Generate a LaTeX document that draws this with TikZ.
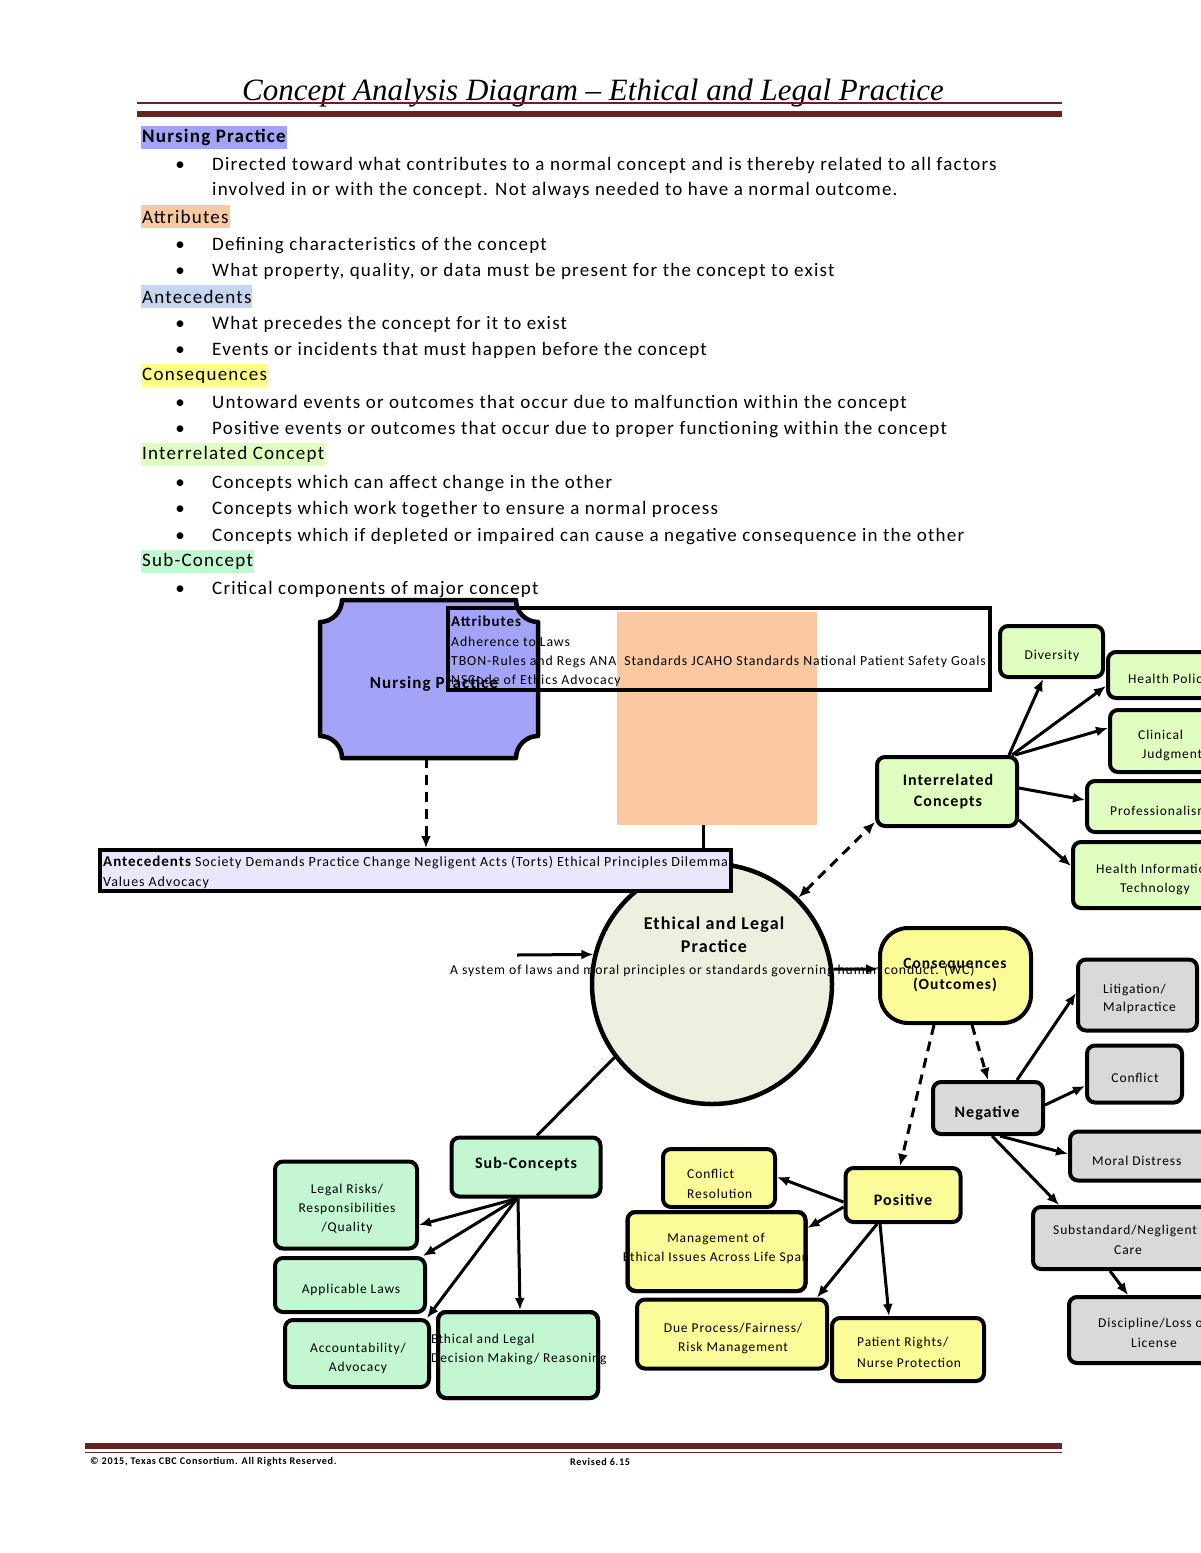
\documentclass[tikz,border=0pt]{standalone}
\usepackage{fontspec}
\setmainfont{Carlito}[LetterSpace=6.5]
\newfontfamily\titlefont{Liberation Serif}
\usetikzlibrary{arrows.meta}
\definecolor{maroon}{HTML}{632523}
\definecolor{npblue}{HTML}{A3A3F8}
\definecolor{peach}{HTML}{FBC9A1}
\definecolor{antblue}{HTML}{C6D6F0}
\definecolor{antbox}{HTML}{E9E7FB}
\definecolor{conhl}{HTML}{FFFF85}
\definecolor{conbox}{HTML}{FBFB98}
\definecolor{irgreen}{HTML}{DFFEC0}
\definecolor{subgreen}{HTML}{C2F7D2}
\definecolor{circfill}{HTML}{EBF1DE}
\definecolor{graybox}{HTML}{D9D9D9}
\begin{document}
\begin{tikzpicture}[x=1pt,y=-1pt,
  hl/.style={anchor=west,inner xsep=1pt,inner ysep=0pt,minimum height=23pt,font=\fontsize{19}{22}\selectfont},
  bodyt/.style={anchor=base west,inner sep=0pt,font=\fontsize{19}{22}\selectfont},
  bul/.style={anchor=base,inner sep=0pt,font=\fontsize{19}{22}\selectfont},
  box/.style={draw,line width=4pt,rounded corners=8pt,inner sep=0pt},
  boxG/.style={box,fill=irgreen},
  boxY/.style={box,fill=conbox},
  boxN/.style={box,fill=graybox},
  boxS/.style={box,fill=subgreen},
  lbl/.style={inner sep=0pt,align=center,font=\fontsize{13.5}{19}\selectfont},
  lbll/.style={lbl,anchor=west},
  lblb/.style={inner sep=0pt,align=center,font=\bfseries\fontsize{16}{21}\selectfont},
  smallt/.style={anchor=base west,inner sep=0pt,font=\fontsize{13.8}{18}\selectfont},
  arr/.style={line width=3pt,-{Latex[length=12pt,width=10pt]}},
  darr/.style={arr,dash pattern=on 10pt off 7pt},
  plain/.style={line width=3pt}]
\useasboundingbox (0,0) rectangle (1200,1553);
\fill[white] (0,0) rectangle (1200,1553);

% header
\node[anchor=base,inner sep=0pt,font=\titlefont\itshape\fontsize{31}{31}\selectfont] (title) at (593,100) {Concept Analysis Diagram \textendash{} Ethical and Legal Practice};
\draw[maroon,line width=1.6pt] (137,103) -- (1062,103);
\draw[maroon,line width=6pt] (137,114) -- (1062,114);

% list
\node[hl,fill=npblue,font=\bfseries\fontsize{19}{22}\selectfont] (h1) at (141,137.5) {Nursing Practice};
\node[bul] (b1) at (180,170) {\textbullet};
\node[bodyt] (t1) at (212,170) {Directed toward what contributes to a normal concept and is thereby related to all factors};
\node[bodyt] (t1b) at (212,195) {involved in or with the concept. Not always needed to have a normal outcome.};
\node[hl,fill=peach] (h2) at (141,216.5) {Attributes};
\node[bul] (b2) at (180,250) {\textbullet};
\node[bodyt] (t2) at (212,250) {Defining characteristics of the concept};
\node[bul] (b3) at (180,276) {\textbullet};
\node[bodyt] (t3) at (212,276) {What property, quality, or data must be present for the concept to exist};
\node[hl,fill=antblue] (h3) at (141,296.5) {Antecedents};
\node[bul] (b4) at (180,329) {\textbullet};
\node[bodyt] (t4) at (212,329) {What precedes the concept for it to exist};
\node[bul] (b5) at (180,355) {\textbullet};
\node[bodyt] (t5) at (212,355) {Events or incidents that must happen before the concept};
\node[hl,fill=conhl] (h4) at (141,375.5) {Consequences};
\node[bul] (b6) at (180,408) {\textbullet};
\node[bodyt] (t6) at (212,408) {Untoward events or outcomes that occur due to malfunction within the concept};
\node[bul] (b7) at (180,434) {\textbullet};
\node[bodyt] (t7) at (212,434) {Positive events or outcomes that occur due to proper functioning within the concept};
\node[hl,fill=irgreen] (h5) at (141,454.5) {Interrelated Concept};
\node[bul] (b8) at (180,488) {\textbullet};
\node[bodyt] (t8) at (212,488) {Concepts which can affect change in the other};
\node[bul] (b9) at (180,514) {\textbullet};
\node[bodyt] (t9) at (212,514) {Concepts which work together to ensure a normal process};
\node[bul] (b10) at (180,541) {\textbullet};
\node[bodyt] (t10) at (212,541) {Concepts which if depleted or impaired can cause a negative consequence in the other};
\node[hl,fill=subgreen] (h6) at (141,561.5) {Sub-Concept};
\node[bul] (b11) at (180,594) {\textbullet};
\node[bodyt] (t11) at (212,594) {Critical components of major concept};

% nursing practice shape
\node[minimum width=218pt,minimum height=158pt,inner sep=0pt] (nurse) at (429,679) {};
\draw[line width=4.5pt,fill=npblue,line join=round]
 (342,600) -- (516,600) .. controls (516,612) and (526,622) .. (538,622)
 -- (538,736) .. controls (526,736) and (516,746) .. (516,758)
 -- (342,758) .. controls (342,746) and (332,736) .. (320,736)
 -- (320,622) .. controls (332,622) and (342,612) .. (342,600) -- cycle;
\node[inner sep=0pt,font=\bfseries\fontsize{17}{20}\selectfont] (nursetxt) at (434,684) {Nursing Practice};

% peach block and attributes box
\node[fill=peach,minimum width=200pt,minimum height=213pt,inner sep=0pt] (peachr) at (717,718.5) {};
\node[draw,line width=4pt,minimum width=542pt,minimum height=82pt,inner sep=0pt] (attr) at (719,649) {};
\node[anchor=base west,inner sep=0pt,font=\bfseries\fontsize{15}{18}\selectfont] (at1) at (451,626) {Attributes};
\node[smallt] (at2) at (451,646) {Adherence to Laws};
\node[smallt] (at3) at (451,665) {TBON-Rules and Regs ANA\ \ Standards JCAHO Standards National Patient Safety Goals};
\node[smallt] (at4) at (451,684) {NSCode of Ethics Advocacy};

% central circle
\node[circle,draw,line width=4.5pt,fill=circfill,minimum size=240pt,inner sep=0pt] (ethic) at (712,984) {};
\node[lblb,font=\bfseries\fontsize{18}{23}\selectfont] (ethictxt) at (714,935) {Ethical and Legal\\Practice};

% antecedents box
\node[draw,line width=4pt,fill=antbox,minimum width=631pt,minimum height=41pt,inner sep=0pt] (ante) at (415.5,870.5) {};
\node[anchor=base west,inner sep=0pt,font=\fontsize{14}{18}\selectfont] (antet1) at (103,866) {{\bfseries\fontsize{15}{18}\selectfont Antecedents} Society Demands Practice Change Negligent Acts (Torts) Ethical Principles Dilemmas};
\node[anchor=base west,inner sep=0pt,font=\fontsize{14}{18}\selectfont] (antet2) at (103,886) {Values Advocacy};
\draw[plain] ([xshift=-14pt]peachr.south) -- ([xshift=-14pt]peachr.south |- ante.north);
\draw[darr] ([xshift=-3pt]nurse.south) -- ([xshift=10.5pt]ante.north);

% interrelated concepts
\node[boxG,minimum width=140pt,minimum height=69pt] (interrel) at (947,791.5) {};
\node[lblb] at (948,792) {Interrelated\\Concepts};
\node[boxG,minimum width=103pt,minimum height=51pt] (div) at (1051.5,651.5) {};
\node[lbl] at (1052,656) {Diversity};
\node[boxG,minimum width=134pt,minimum height=46pt] (hpol) at (1175,675) {};
\node[lbll] at (1128,680) {Health Policy};
\node[boxG,minimum width=104pt,minimum height=62pt] (clin) at (1162,741) {};
\node[lbll] at (1138,735) {Clinical};
\node[lbll] at (1142,755) {Judgment};
\node[boxG,minimum width=126pt,minimum height=51pt] (prof) at (1150,806.5) {};
\node[lbll] at (1110,811) {Professionalism};
\node[boxG,minimum width=140pt,minimum height=66pt] (hit) at (1143,875) {};
\node[lbll] at (1096,869) {Health Information};
\node[lbl] at (1155,889) {Technology};
\draw[arr] ([xshift=-10pt]interrel.north east) -- ([xshift=-8.5pt]div.south);
\draw[arr] ([xshift=-7pt]interrel.north east) -- ([yshift=-11pt]hpol.west);
\draw[arr] ([xshift=-4pt]interrel.north east) -- ([yshift=13pt]clin.west);
\draw[arr] ([yshift=3.5pt]interrel.east) -- ([yshift=6.5pt]prof.west);
\draw[arr] ([yshift=-28.5pt]interrel.east) -- ([yshift=9pt]hit.west);
\draw[darr,{Latex[length=12pt,width=10pt]}-{Latex[length=12pt,width=10pt]}] (ethic.45) -- ([yshift=6pt]interrel.south west);

% consequences
\node[box,fill=conbox,rounded corners=28pt,minimum width=151pt,minimum height=95pt] (cons) at (955.5,975.5) {};
\node[lblb,font=\bfseries\fontsize{15.5}{21}\selectfont] at (955,975) {Consequences\\(Outcomes)};
\draw[arr] (ethic.7) -- ([yshift=6.5pt]cons.west);
\coordinate (defstart) at (517,955);
\draw[arr] (defstart) -- (ethic.166);
\node[anchor=base west,inner sep=0pt,font=\fontsize{13.7}{18}\selectfont] (deftxt) at (450,974) {A system of laws and moral principles or standards governing human conduct. (WC)};

% negative side
\node[boxN,minimum width=110pt,minimum height=52pt] (neg) at (988,1108) {};
\node[lblb] at (987,1113) {Negative};
\node[boxN,minimum width=119pt,minimum height=71pt] (lit) at (1137.5,995) {};
\node[lbll] at (1103,990) {Litigation/};
\node[lbll] at (1103,1008) {Malpractice};
\node[boxN,minimum width=95pt,minimum height=57pt] (confl) at (1134.5,1074) {};
\node[lbl] at (1135,1078) {Conflict};
\node[boxN,minimum width=144pt,minimum height=49pt] (moral) at (1142,1156) {};
\node[lbll] at (1092,1161) {Moral Distress};
\node[boxN,minimum width=180pt,minimum height=62pt] (subst) at (1123,1238) {};
\node[lbll] at (1053,1231) {Substandard/Negligent};
\node[lbl] at (1128,1250) {Care};
\node[boxN,minimum width=146pt,minimum height=66pt] (disc) at (1142,1330) {};
\node[lbll] at (1098,1324) {Discipline/Loss of};
\node[lbl] at (1154,1343) {License};
\draw[darr] ([xshift=16.5pt]cons.south) -- (neg.north);
\draw[arr] ([xshift=29pt]neg.north) -- ([yshift=2pt]lit.west);
\draw[arr] ([yshift=3pt]neg.east) -- ([yshift=-12pt]confl.west);
\draw[arr] ([xshift=12pt]neg.south) -- ([yshift=2pt]moral.west);
\draw[arr] ([xshift=4pt]neg.south) -- ([xshift=-64pt]subst.north);
\draw[arr] ([xshift=-13pt]subst.south) -- ([xshift=-14pt]disc.north);

% positive side
\node[boxY,minimum width=115pt,minimum height=54pt] (pos) at (903,1195) {};
\node[lblb] at (903,1200) {Positive};
\node[boxY,minimum width=112pt,minimum height=58pt] (confres) at (719,1178) {};
\node[lbll] at (687,1174) {Conflict};
\node[lbll] at (687,1194) {Resolution};
\node[boxY,minimum width=178pt,minimum height=79pt] (mgmt) at (716.5,1251.5) {};
\node[lbl] at (716,1248) {Management of\\Ethical Issues Across Life Span};
\node[box,minimum width=178pt,minimum height=79pt] at (mgmt) {};
\node[boxY,minimum width=190pt,minimum height=69pt] (due) at (732,1334) {};
\node[lbl] at (733,1338) {Due Process/Fairness/\\Risk Management};
\node[boxY,minimum width=152pt,minimum height=63pt] (prights) at (908,1349.5) {};
\node[lbll] at (857,1343) {Patient Rights/};
\node[lbll] at (857,1363) {Nurse Protection};
\draw[darr] ([xshift=-21.5pt]cons.south) -- ([xshift=-3pt]pos.north);
\draw[arr] ([yshift=-7pt]pos.west) -- ([yshift=1pt]confres.east);
\draw[arr] ([yshift=-12pt]pos.west) -- ([yshift=23.5pt]mgmt.east);
\draw[arr] ([xshift=-26pt]pos.south) -- ([xshift=85pt]due.north);
\draw[arr] ([xshift=-23pt]pos.south) -- ([xshift=-19pt]prights.north);

% sub-concepts
\node[boxS,minimum width=149pt,minimum height=59pt] (sub) at (526,1167) {};
\node[lblb] at (526,1164) {Sub-Concepts};
\node[boxS,minimum width=142pt,minimum height=87pt] (legal) at (346,1205) {};
\node[lbl] at (347,1209) {Legal Risks/\\Responsibilities\\/Quality};
\node[boxS,minimum width=150pt,minimum height=54pt] (appl) at (350,1285) {};
\node[lbl] at (351,1290) {Applicable Laws};
\node[boxS,minimum width=144pt,minimum height=67pt] (acct) at (357,1353.5) {};
\node[lbl] at (358,1358) {Accountability/\\Advocacy};
\node[boxS,minimum width=160pt,minimum height=86pt] (dec) at (518,1355) {};
\node[lbll] at (431,1340) {Ethical and Legal};
\node[lbll] at (431,1359) {Decision Making/ Reasoning};
\node[box,minimum width=160pt,minimum height=86pt] at (dec) {};
\draw[plain] (ethic.217) -- ([xshift=11pt]sub.north);
\draw[arr] ([xshift=-9pt]sub.south) -- ([yshift=-20pt]legal.east);
\draw[arr] ([xshift=-9pt]sub.south) -- ([xshift=73pt]appl.north);
\draw[arr] ([xshift=-9pt]sub.south) -- ([xshift=70pt]acct.north);
\draw[arr] ([xshift=-8pt]sub.south) -- ([xshift=2pt]dec.north);

% footer
\draw[maroon,line width=6pt] (85,1446) -- (1062,1446);
\draw[maroon,line width=1.2pt] (85,1452.5) -- (1062,1452.5);
\node[anchor=west,inner sep=0pt,font=\bfseries\fontsize{10.2}{12}\selectfont] (foot1) at (90,1462) {\textcopyright{} 2015, Texas CBC Consortium. All Rights Reserved.};
\node[anchor=west,inner sep=0pt,font=\bfseries\fontsize{10.2}{12}\selectfont] (foot2) at (570,1462) {Revised 6.15};
\end{tikzpicture}
\end{document}
